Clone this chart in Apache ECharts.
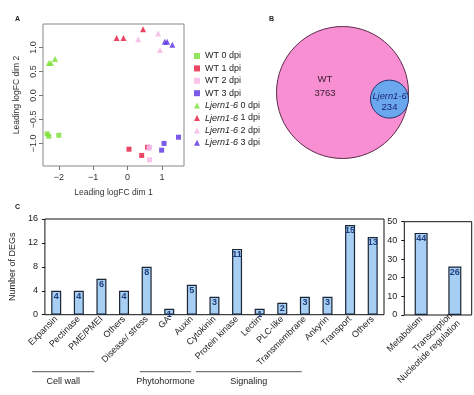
<!DOCTYPE html>
<html><head><meta charset="utf-8">
<script src="https://cdn.jsdelivr.net/npm/echarts@6/dist/echarts.min.js"></script>
<style>html,body{margin:0;padding:0;background:#fff}#c{width:474px;height:395px}</style>
</head><body><div id="c"></div>
<script>
// ---------- Panel A: MDS plot ----------
const mdsGroups = ['WT 0 dpi','WT 1 dpi','WT 2 dpi','WT 3 dpi','Ljern1-6 0 dpi','Ljern1-6 1 dpi','Ljern1-6 2 dpi','Ljern1-6 3 dpi'];
const wt0 = [[-2.34,-0.80],[-2.29,-0.85],[-2.00,-0.83]];
const wt1 = [[0.04,-1.12],[0.41,-1.25],[0.58,-1.08]];
const wt2 = [[0.64,-1.08],[0.64,-1.34],[0.62,-1.10]];
const wt3 = [[1.48,-0.87],[1.06,-1.00],[0.99,-1.14]];
const lj0 = [[-2.29,0.675],[-2.23,0.675],[-2.11,0.76]];
const lj1 = [[-0.32,1.20],[-0.12,1.20],[0.45,1.38]];
const lj2 = [[0.31,1.17],[0.89,1.29],[0.94,0.95]];
const lj3 = [[1.08,1.12],[1.15,1.12],[1.30,1.06]];
const mdsXTicks = [-2,-1,0,1];
const mdsYTicks = [-1,-0.5,0,0.5,1];

// ---------- Panel B: Venn ----------
const vennSets = ['WT','Ljern1-6'];
const vennCounts = [3763, 234];

// ---------- Panel C: bars ----------
const deCategories = ['Expansin','Pectinase','PME/PMEI','Others','Disease/ stress','GA','Auxin','Cytokinin','Protein kinase','Lectin','PLC-like','Transmembrane','Ankyrin','Transport','Others'];
const deCounts = [4,4,6,4,8,1,5,3,11,1,2,3,3,15,13];
const bigCategories = ['Metabolism','Transcription\nNucleotide regulation'];
const bigCounts = [44,26];
const groupNames = ['Cell wall','Phytohormone','Signaling'];
const deYTicks = [0,16,4];
const bigYTicks = [0,50,10];

// ---------- styles / layout ----------
const FONT = 'Liberation Sans, Arial, sans-serif';
const groupColors = ['#78e030','#e5163f','#f6b4e4','#5a30e4'];
const groupSpans = [[0,-1.06,2,-0.32],[4,-0.30,6,-0.04],[7,-0.82,11,-0.14]];
const vennLayout = {centers:[[0,0],[0.712,-0.10]], sizes:[132,38], colors:['#f88fd2','#6ba7ee'], borders:['#5a2a4a','#27306a']};

const mdsSeriesData = [wt0,wt1,wt2,wt3,lj0,lj1,lj2,lj3];
const mdsSeries = mdsSeriesData.map((d,i)=>({
  type:'scatter', name: mdsGroups[i], xAxisIndex:0, yAxisIndex:0,
  data:d, symbol: i<4?'rect':'triangle', symbolSize: i<4?5:6,
  itemStyle:{color: groupColors[i%4]}, z: 3
}));
const fmtMinus = v => (v<0?'\u2212':'') + Math.abs(v);

const chart = echarts.init(document.getElementById('c'), null, {renderer:'canvas'});
const option = {
  animation:false,
  textStyle:{fontFamily:FONT},
  title:[
    {text:'A', left:10, top:11, textStyle:{fontSize:7, fontWeight:'bold', color:'#222', fontFamily:FONT}},
    {text:'B', left:264, top:11, textStyle:{fontSize:7, fontWeight:'bold', color:'#222', fontFamily:FONT}},
    {text:'C', left:10, top:199, textStyle:{fontSize:7, fontWeight:'bold', color:'#222', fontFamily:FONT}}
  ],
  legend:{
    data: mdsGroups.map((n,i)=>({name:n, icon: i<4?'rect':'triangle'})),
    orient:'vertical', left:189, top:46, itemWidth:6, itemHeight:6, itemGap:2.4,
    formatter: n => n.startsWith('Ljern1-6') ? '{i|Ljern1-6}{n|' + n.slice(8) + '}' : '{n|'+n+'}',
    textStyle:{fontFamily:FONT, fontSize:9, color:'#222', lineHeight:10, padding:[0,0,0,0],
      rich:{i:{fontStyle:'italic', fontSize:9, lineHeight:10, color:'#222', fontFamily:FONT},
            n:{fontSize:9, lineHeight:10, color:'#222', fontFamily:FONT}}}
  },
  grid:[
    {left:43, top:24, width:141, height:142, show:true, borderColor:'#888', borderWidth:1, backgroundColor:'transparent'},
    {left:42.5, top:219, width:341.5, height:95.7, show:true, borderColor:'#111', borderWidth:1, backgroundColor:'transparent'},
    {left:404.3, top:221.7, width:67.4, height:93.3, show:true, borderColor:'#111', borderWidth:1, backgroundColor:'transparent'},
    {left:276.5, top:26.5, width:132, height:132, show:false}
  ],
  xAxis:[
    {type:'value', gridIndex:0, min:-2.46, max:1.64, position:'bottom',
     name:'Leading logFC dim 1', nameLocation:'middle', nameGap:22,
     nameTextStyle:{fontSize:8.5, color:'#333', fontFamily:FONT},
     axisLine:{show:false, onZero:false}, splitLine:{show:false},
     axisTick:{show:true, length:4, lineStyle:{color:'#777'}, customValues:mdsXTicks},
     axisLabel:{fontSize:9, color:'#333', margin:7, customValues:mdsXTicks, formatter:fmtMinus}},
    {type:'category', gridIndex:1, data:deCategories, boundaryGap:true,
     axisLine:{show:false}, axisTick:{show:false}, splitLine:{show:false},
     axisLabel:{rotate:45, interval:0, fontSize:9, color:'#222', margin:3}},
    {type:'category', gridIndex:2, data:bigCategories, boundaryGap:true,
     axisLine:{show:false}, axisTick:{show:false}, splitLine:{show:false},
     axisLabel:{rotate:45, interval:0, fontSize:9, color:'#222', margin:3, lineHeight:11}},
    {type:'value', gridIndex:3, min:-1, max:1, show:false}
  ],
  yAxis:[
    {type:'value', gridIndex:0, min:-1.47, max:1.49, position:'left',
     name:'Leading logFC dim 2', nameLocation:'middle', nameGap:22,
     nameTextStyle:{fontSize:8.5, color:'#333', fontFamily:FONT},
     axisLine:{show:false, onZero:false}, splitLine:{show:false},
     axisTick:{show:true, length:4, lineStyle:{color:'#777'}, customValues:mdsYTicks},
     axisLabel:{fontSize:9, color:'#333', margin:5, rotate:90, customValues:mdsYTicks,
       formatter: v => (v<0?'\u2212':'') + Math.abs(v).toFixed(1)}},
    {type:'value', gridIndex:1, min:deYTicks[0], max:deYTicks[1], interval:deYTicks[2],
     name:'Number of DEGs', nameLocation:'middle', nameGap:18,
     nameTextStyle:{fontSize:9, color:'#222', fontFamily:FONT},
     axisLine:{show:false}, splitLine:{show:false},
     axisTick:{show:true, length:3, lineStyle:{color:'#111'}},
     axisLabel:{fontSize:9, color:'#222', margin:7}},
    {type:'value', gridIndex:2, min:bigYTicks[0], max:bigYTicks[1], interval:bigYTicks[2],
     axisLine:{show:false}, splitLine:{show:false},
     axisTick:{show:true, length:3, lineStyle:{color:'#111'}},
     axisLabel:{fontSize:9, color:'#222', margin:7}},
    {type:'value', gridIndex:3, min:-1, max:1, show:false}
  ],
  series:[
    ...mdsSeries,
    {type:'scatter', xAxisIndex:3, yAxisIndex:3, silent:true, z:1,
     data: vennSets.map((s,i)=>({
       value: vennLayout.centers[i], name:s,
       symbolSize: vennLayout.sizes[i],
       itemStyle:{color:vennLayout.colors[i], borderColor:vennLayout.borders[i], borderWidth:1, opacity:1},
       label: i===0 ? {show:true, position:'inside', offset:[-17.5,-6.5],
                  formatter:'{a|'+s+'}\n{a|'+vennCounts[i]+'}',
                  rich:{a:{fontSize:9.5, lineHeight:14, color:'#3a2030', fontFamily:FONT, align:'center'}}}
               : {show:true, position:'inside', offset:[0,3],
                  formatter:'{b|'+s+'}\n{a|'+vennCounts[i]+'}',
                  rich:{b:{fontSize:9.3, lineHeight:11.5, color:'#1b2470', fontStyle:'italic', fontFamily:FONT, align:'center'},
                        a:{fontSize:9.5, lineHeight:11.5, color:'#1b2470', fontFamily:FONT, align:'center'}}}
     }))},
    {type:'bar', xAxisIndex:1, yAxisIndex:1, data:deCounts, barWidth:10,
     itemStyle:{color:'#a7cff3', borderColor:'#1b2535', borderWidth:1.2},
     label:{show:true, position:'insideTop', distance:1.5, fontSize:9, fontWeight:'bold', color:'#1e3c7c', fontFamily:FONT}},
    {type:'bar', xAxisIndex:2, yAxisIndex:2, data:bigCounts, barWidth:13,
     itemStyle:{color:'#a7cff3', borderColor:'#1b2535', borderWidth:1.2},
     label:{show:true, position:'insideTop', distance:1.5, fontSize:9, fontWeight:'bold', color:'#1e3c7c', fontFamily:FONT}}
  ]
};
chart.setOption(option);

// group annotations under categories, positioned from category axis pixels
const px = i => chart.convertToPixel({xAxisIndex:1}, i);
const band = px(1) - px(0);
const lineY = 371.7, textY = 381.7;
const graphics = [];
groupSpans.forEach((s,k)=>{
  const x1 = px(s[0]) + s[1]*band, x2 = px(s[2]) + s[3]*band;
  graphics.push({type:'line', shape:{x1:x1, y1:lineY, x2:x2, y2:lineY}, style:{stroke:'#555', lineWidth:1}});
  graphics.push({type:'text', x:(x1+x2)/2, y:textY, style:{text:groupNames[k], fontSize:9, fill:'#222', fontFamily:FONT, align:'center', verticalAlign:'middle'}});
});
chart.setOption({graphic:graphics});
</script>
</body></html>
